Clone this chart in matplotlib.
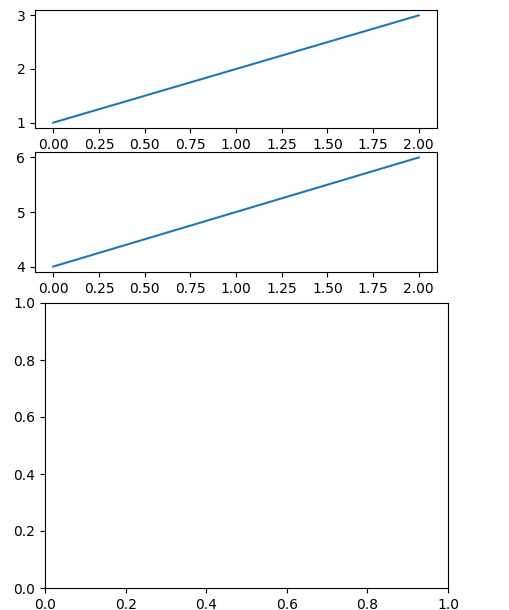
import matplotlib
matplotlib.use("Agg")
import matplotlib.pyplot as plt

x = [0, 1, 2]
y1 = [1, 2, 3]
y2 = [4, 5, 6]

fig = plt.figure(figsize=(5.09, 6.10), dpi=100)
ax1 = fig.add_axes([35/509, 1-128/610, 402/509, 118/610])
ax1.plot(x, y1)
ax2 = fig.add_axes([35/509, 1-272/610, 402/509, 120/610])
ax2.plot(x, y2)
ax3 = fig.add_axes([45/509, 1-588/610, 403/509, 285/610])
fig.savefig("out.png", dpi=100)
